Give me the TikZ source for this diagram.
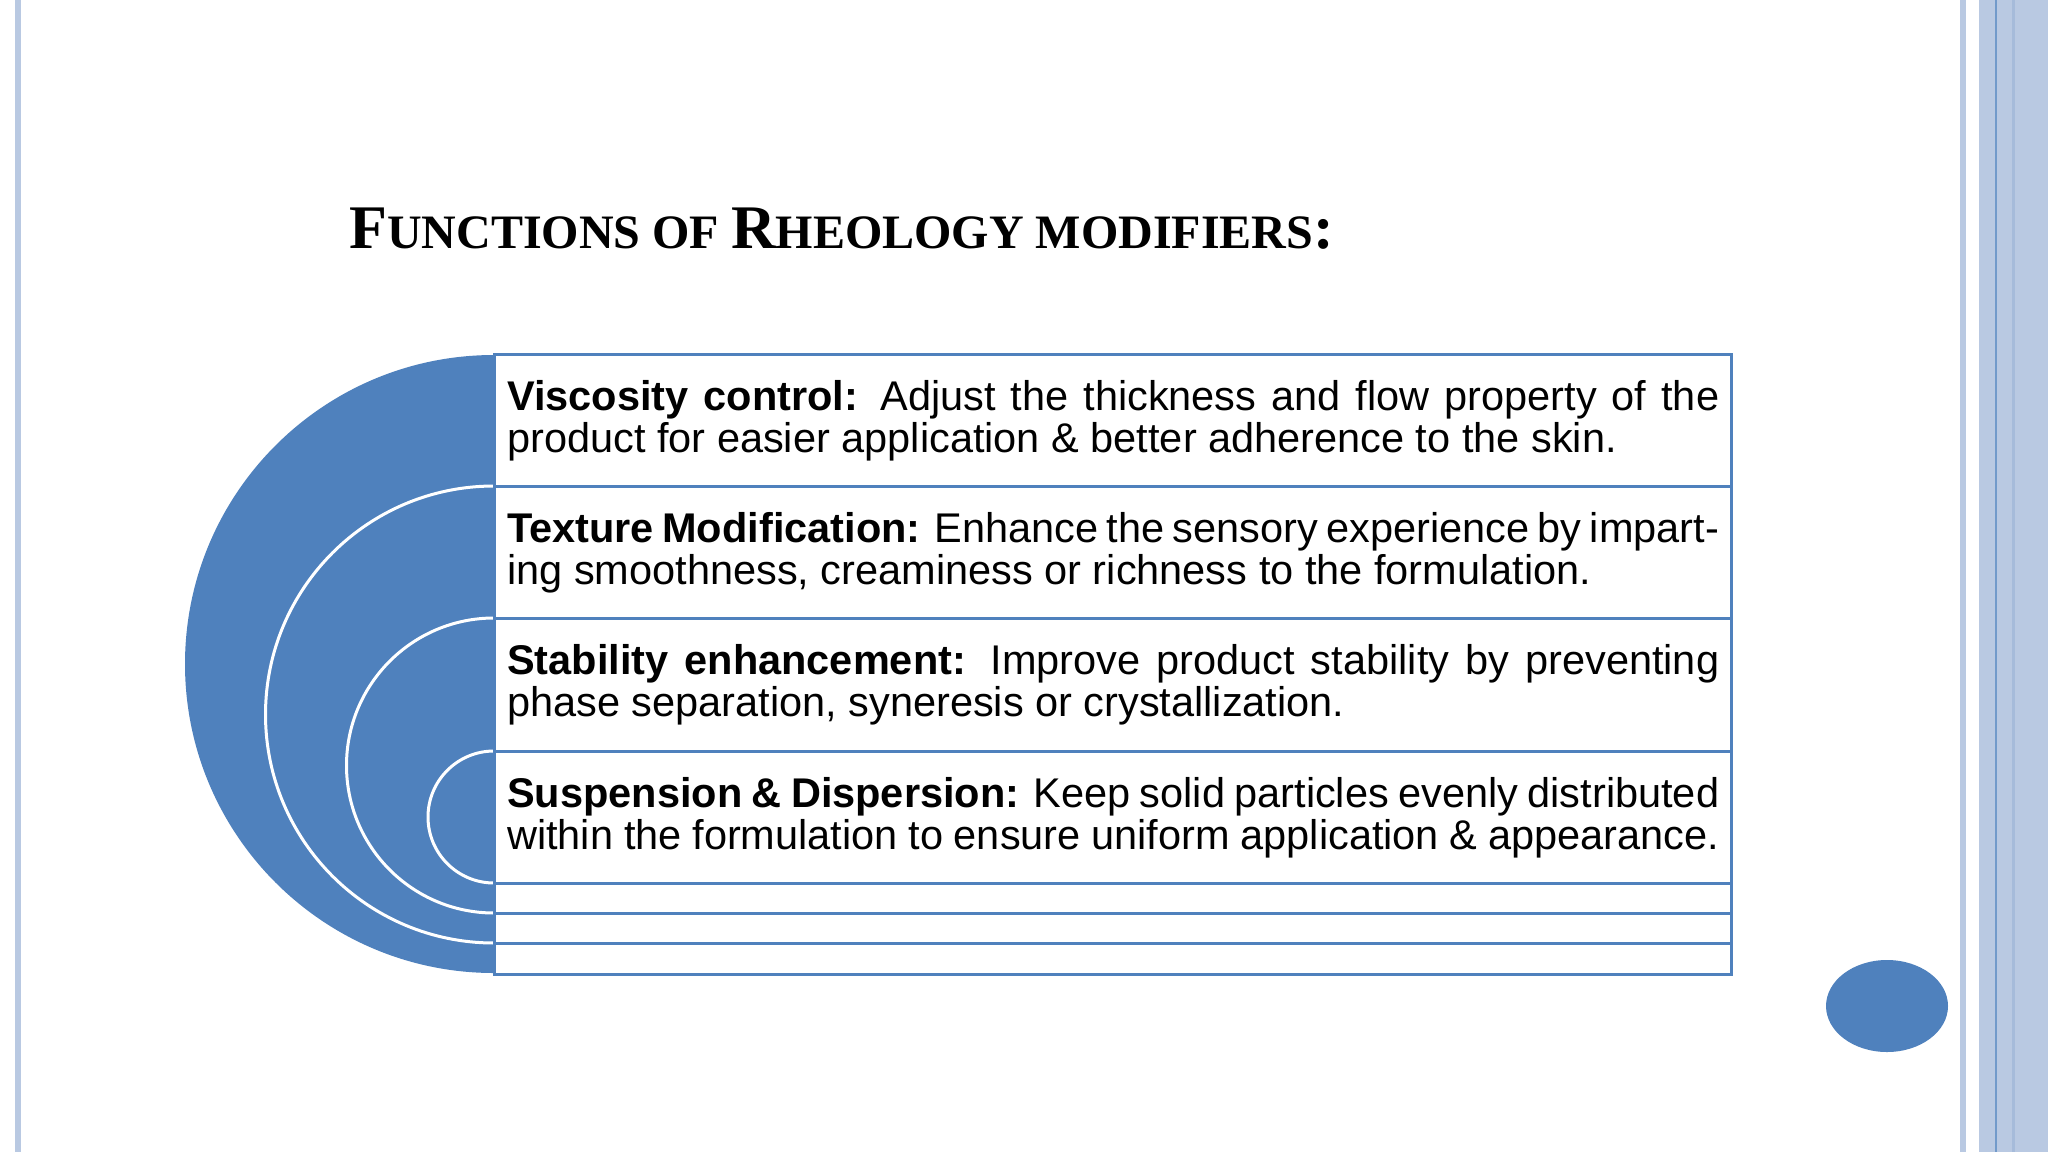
\documentclass[tikz,border=0pt]{standalone}
\usepackage{fontspec}
\setmainfont{Liberation Sans}
\newfontfamily\serifbold{Liberation Serif}
\definecolor{mblue}{HTML}{4F81BD}
\definecolor{stripe}{HTML}{B9C9E2}
\definecolor{stripedark}{HTML}{A6BBDA}
\begin{document}
\begin{tikzpicture}[x=1pt,y=-1pt,
  rowbox/.style={draw=mblue,line width=3pt,fill=white},
  rowtext/.style={anchor=north west,text width=1212pt,align=justify,inner sep=0pt,
     font=\fontsize{41.5}{42}\selectfont},
  arcline/.style={draw=white,line width=3pt}]
\useasboundingbox (0,0) rectangle (2048,1152);
\fill[white] (0,0) rectangle (2048,1152);
% borders
\fill[stripe] (15,0) rectangle (21,1152);
\fill[stripe] (1960,0) rectangle (1966,1152);
\fill[stripe] (1979,0) rectangle (2048,1152);
\fill[mblue!80] (1995,0) rectangle (1997,1152);
\fill[stripedark] (2012,0) rectangle (2015,1152);
% title
\node[anchor=base west,inner sep=0pt] (title) at (349,248)
 {\serifbold\bfseries\fontsize{62}{70}\selectfont F{\fontsize{48}{50}\selectfont UNCTIONS OF }R{\fontsize{48}{50}\selectfont HEOLOGY MODIFIERS}:};
% semicircle
\begin{scope}
\clip (0,0) rectangle (494,1152);
\fill[mblue] (494,664) circle[radius=309];
\draw[arcline] (494,714.5) circle[radius=228.5];
\draw[arcline] (494,765.5) circle[radius=147.5];
\draw[arcline] (494,817) circle[radius=66];
\end{scope}
% rows
\draw[rowbox] (494,354) rectangle (1731,486);
\draw[rowbox] (494,486) rectangle (1731,618);
\draw[rowbox] (494,618) rectangle (1731,751);
\draw[rowbox] (494,751) rectangle (1731,883);
\draw[rowbox] (494,883) rectangle (1731,913);
\draw[rowbox] (494,913) rectangle (1731,943);
\draw[rowbox] (494,943) rectangle (1731,974);
\node[rowtext] (t1) at (507,380) {\textbf{Viscosity control:} Adjust the thickness and flow property of the product for easier application \& better adherence to the skin.};
\node[rowtext] (t2) at (507,512) {\textbf{Texture Modification:} Enhance the sensory experience by imparting smoothness, creaminess or richness to the formulation.};
\node[rowtext] (t3) at (507,644) {\textbf{Stability enhancement:} Improve product stability by preventing phase separation, syneresis or crystallization.};
\node[rowtext] (t4) at (507,777) {\textbf{Suspension \& Dispersion:} Keep solid particles evenly distributed within the formulation to ensure uniform application \& appearance.};
% ellipse
\fill[mblue] (1887,1006) ellipse[x radius=61,y radius=46];
\end{tikzpicture}
\end{document}
